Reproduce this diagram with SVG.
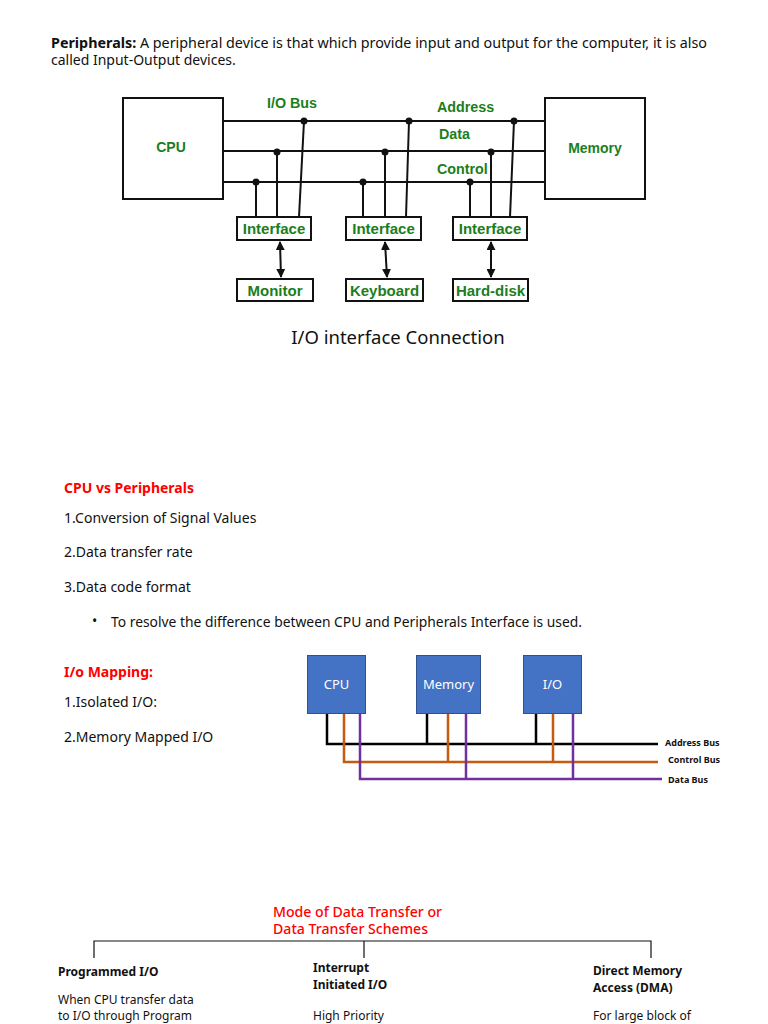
<svg xmlns="http://www.w3.org/2000/svg" width="768" height="1024" viewBox="0 0 768 1024">
<style>
.body{font-family:"Noto Sans","Open Sans",sans-serif;font-size:14px;fill:#111}
.bold{font-weight:bold}
.red{fill:#ff0000}
.g{font-family:"Liberation Sans",Arial,sans-serif;font-weight:bold;fill:#1b7e1b}
.box{fill:#fff;stroke:#111;stroke-width:2}
.bus{stroke:#111;stroke-width:2;fill:none}
.blue{fill:#4472c4;stroke:#2f528f;stroke-width:1}
.wt{font-family:"Noto Sans","Open Sans",sans-serif;font-size:13px;fill:#fff}
.bl{font-family:"Noto Sans",sans-serif;font-size:9px;font-weight:bold;fill:#111}
.cal{font-family:"Noto Sans","Open Sans",sans-serif;font-size:12px;fill:#111}
</style>
<defs>
<marker id="ah" viewBox="0 0 10 10" refX="9" refY="5" markerWidth="4.5" markerHeight="4.5" orient="auto-start-reverse"><path d="M0,0 L10,5 L0,10 z" fill="#111"/></marker>
</defs>
<rect width="768" height="1024" fill="#fff"/>

<text class="body" x="51" y="48" textLength="656" lengthAdjust="spacingAndGlyphs"><tspan class="bold">Peripherals:</tspan> A peripheral device is that which provide input and output for the computer, it is also</text>
<text class="body" x="51" y="65">called Input-Output devices.</text>

<g id="cpu1"><rect class="box" x="123" y="98" width="100" height="101"/><text class="g" x="171" y="152" font-size="14" text-anchor="middle">CPU</text></g>
<g id="memory1"><rect class="box" x="545" y="98" width="100" height="101"/><text class="g" x="595" y="153" font-size="14" text-anchor="middle">Memory</text></g>
<g id="labels1">
<text class="g" x="292" y="108" font-size="14.3" text-anchor="middle">I/O Bus</text>
<text class="g" x="437" y="112" font-size="14.3">Address</text>
<text class="g" x="439" y="139" font-size="14.3">Data</text>
<text class="g" x="437" y="174" font-size="14.3">Control</text>
</g>
<g id="if1"><rect class="box" x="237" y="217" width="74" height="23"/><text class="g" x="274" y="234" font-size="15" text-anchor="middle">Interface</text></g>
<g id="if2"><rect class="box" x="346" y="217" width="75" height="23"/><text class="g" x="383.5" y="234" font-size="15" text-anchor="middle">Interface</text></g>
<g id="if3"><rect class="box" x="453" y="217" width="74" height="23"/><text class="g" x="490" y="234" font-size="15" text-anchor="middle">Interface</text></g>
<g id="monitor"><rect class="box" x="237" y="279" width="76" height="22"/><text class="g" x="275" y="296" font-size="15" text-anchor="middle">Monitor</text></g>
<g id="keyboard"><rect class="box" x="346" y="279" width="77" height="22"/><text class="g" x="384.5" y="296" font-size="15" text-anchor="middle">Keyboard</text></g>
<g id="harddisk"><rect class="box" x="453" y="279" width="75" height="22"/><text class="g" x="490.5" y="296" font-size="15" text-anchor="middle">Hard-disk</text></g>

<g id="connectors1">
<line class="bus" x1="223" y1="121" x2="545" y2="121"/>
<line class="bus" x1="223" y1="151" x2="545" y2="151" stroke-width="3"/>
<line class="bus" x1="223" y1="182" x2="545" y2="182"/>
<line class="bus" x1="304" y1="121" x2="299" y2="217"/>
<line class="bus" x1="409" y1="121" x2="406" y2="217"/>
<line class="bus" x1="514" y1="121" x2="510" y2="217"/>
<line class="bus" x1="277" y1="151" x2="277" y2="217"/>
<line class="bus" x1="385" y1="151" x2="385" y2="217"/>
<line class="bus" x1="491" y1="151" x2="491" y2="217"/>
<line class="bus" x1="256" y1="182" x2="256" y2="217"/>
<line class="bus" x1="363" y1="182" x2="363" y2="217"/>
<line class="bus" x1="470" y1="182" x2="470" y2="217"/>
<g fill="#111">
<circle cx="304" cy="121" r="3.5"/><circle cx="409" cy="121" r="3.5"/><circle cx="514" cy="121" r="3.5"/>
<circle cx="277" cy="152" r="3.5"/><circle cx="385" cy="152" r="3.5"/><circle cx="491" cy="152" r="3.5"/>
<circle cx="256" cy="182" r="3.5"/><circle cx="363" cy="182" r="3.5"/><circle cx="470" cy="182" r="3.5"/>
</g>
<line class="bus" x1="280" y1="242" x2="281" y2="277" stroke-width="2.5" marker-start="url(#ah)" marker-end="url(#ah)"/>
<line class="bus" x1="385" y1="242" x2="387" y2="277" stroke-width="2.8" marker-start="url(#ah)" marker-end="url(#ah)"/>
<line class="bus" x1="491" y1="242" x2="491" y2="277" stroke-width="2" marker-start="url(#ah)" marker-end="url(#ah)"/>
</g>

<text x="398" y="344" font-family="Noto Sans,Open Sans,sans-serif" font-size="18.5" fill="#111" text-anchor="middle">I/O interface Connection</text>

<text class="body bold red" x="64" y="493">CPU vs Peripherals</text>
<text class="body" x="64" y="523">1.Conversion of Signal Values</text>
<text class="body" x="64" y="557">2.Data transfer rate</text>
<text class="body" x="64" y="592">3.Data code format</text>
<text class="body" x="92" y="626">•</text>
<text class="body" x="111" y="627" textLength="471" lengthAdjust="spacingAndGlyphs">To resolve the difference between CPU and Peripherals Interface is used.</text>
<text class="body bold red" x="64" y="677">I/o Mapping:</text>
<text class="body" x="64" y="707">1.Isolated I/O:</text>
<text class="body" x="64" y="742">2.Memory Mapped I/O</text>

<g id="cpu2"><rect class="blue" x="307.5" y="655.5" width="58" height="58"/><text class="wt" x="336.5" y="689" text-anchor="middle">CPU</text></g>
<g id="memory2"><rect class="blue" x="416.5" y="655.5" width="64" height="58"/><text class="wt" x="448.5" y="689" text-anchor="middle">Memory</text></g>
<g id="io2"><rect class="blue" x="523.5" y="655.5" width="58" height="58"/><text class="wt" x="552.5" y="689" text-anchor="middle">I/O</text></g>
<g id="connectors2" fill="none">
<path d="M327,714 V744 H658 M427,714 V744 M536,714 V744" stroke="#000" stroke-width="2.5"/>
<path d="M344,714 V762 H658 M448,714 V762 M553,714 V762" stroke="#c55a11" stroke-width="2.5"/>
<path d="M360,714 V779 H662 M466,714 V779 M573,714 V779" stroke="#7030a0" stroke-width="2.5"/>
</g>
<text class="bl" x="665" y="746">Address Bus</text>
<text class="bl" x="668" y="763">Control Bus</text>
<text class="bl" x="668" y="783">Data Bus</text>

<text class="body red" x="273" y="917" font-weight="500" textLength="169" lengthAdjust="spacingAndGlyphs">Mode of Data Transfer or</text>
<text class="body red" x="273" y="934" font-weight="500" textLength="155" lengthAdjust="spacingAndGlyphs">Data Transfer Schemes</text>
<g id="connectors3" fill="none" stroke="#111" stroke-width="1.2">
<path d="M94,958 V941 H651 V958 M364,941 V958"/>
</g>
<g id="programmed"><text class="cal bold" x="58" y="976">Programmed I/O</text>
<text class="cal" x="58" y="1004">When CPU transfer data</text>
<text class="cal" x="58" y="1020">to I/O through Program</text></g>
<g id="interrupt"><text class="cal bold" x="313" y="972">Interrupt</text>
<text class="cal bold" x="313" y="989">Initiated I/O</text>
<text class="cal" x="313" y="1020">High Priority</text></g>
<g id="dma"><text class="cal bold" x="593" y="975">Direct Memory</text>
<text class="cal bold" x="593" y="992">Access (DMA)</text>
<text class="cal" x="593" y="1020">For large block of</text></g>
</svg>
